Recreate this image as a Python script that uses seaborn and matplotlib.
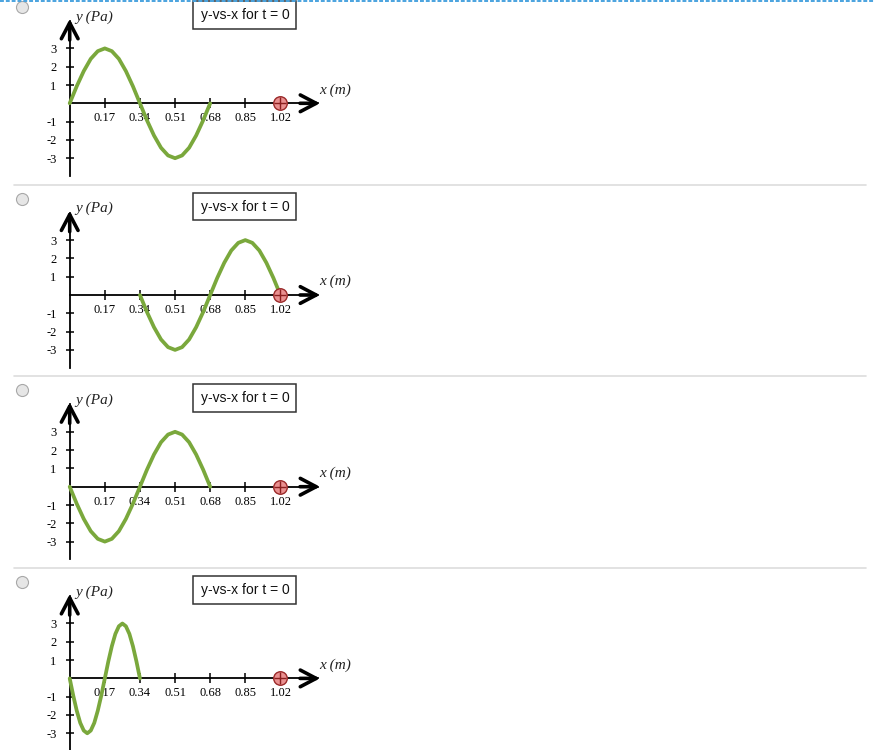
import numpy as np
import pandas as pd
import seaborn as sns
import matplotlib.pyplot as plt
from matplotlib.patches import Rectangle
from matplotlib.lines import Line2D

sns.set_theme(style="white")
plt.rcParams['font.family'] = ['Liberation Serif', 'DejaVu Serif']

# ---- data ----
x_ticks = [0.17, 0.34, 0.51, 0.68, 0.85, 1.02]
x_tick_labels = ["0.17", "0.34", "0.51", "0.68", "0.85", "1.02"]
y_ticks = [-3, -2, -1, 1, 2, 3]
y_tick_labels = ["-3", "-2", "-1", "1", "2", "3"]
title = "y-vs-x for t = 0"
x_label = "x (m)"
y_label = "y (Pa)"
source_x = 1.02
source_y = 0

x_full = [0, 0.034, 0.068, 0.102, 0.136, 0.17, 0.204, 0.238, 0.272, 0.306, 0.34,
          0.374, 0.408, 0.442, 0.476, 0.51, 0.544, 0.578, 0.612, 0.646, 0.68]
x_late = [0.34, 0.374, 0.408, 0.442, 0.476, 0.51, 0.544, 0.578, 0.612, 0.646, 0.68,
          0.714, 0.748, 0.782, 0.816, 0.85, 0.884, 0.918, 0.952, 0.986, 1.02]
x_short = [0, 0.017, 0.034, 0.051, 0.068, 0.085, 0.102, 0.119, 0.136, 0.153, 0.17,
           0.187, 0.204, 0.221, 0.238, 0.255, 0.272, 0.289, 0.306, 0.323, 0.34]

y_a = [0, 0.93, 1.76, 2.43, 2.85, 3.0, 2.85, 2.43, 1.76, 0.93, 0,
       -0.93, -1.76, -2.43, -2.85, -3.0, -2.85, -2.43, -1.76, -0.93, 0]
y_b = [0, -0.93, -1.76, -2.43, -2.85, -3.0, -2.85, -2.43, -1.76, -0.93, 0,
       0.93, 1.76, 2.43, 2.85, 3.0, 2.85, 2.43, 1.76, 0.93, 0]
y_c = [0, -0.93, -1.76, -2.43, -2.85, -3.0, -2.85, -2.43, -1.76, -0.93, 0,
       0.93, 1.76, 2.43, 2.85, 3.0, 2.85, 2.43, 1.76, 0.93, 0]
y_d = [0, -0.93, -1.76, -2.43, -2.85, -3.0, -2.85, -2.43, -1.76, -0.93, 0,
       0.93, 1.76, 2.43, 2.85, 3.0, 2.85, 2.43, 1.76, 0.93, 0]

panels = [(x_full, y_a), (x_late, y_b), (x_full, y_c), (x_short, y_d)]
df = pd.concat([pd.DataFrame({"panel": i, "x": xs, "y": ys})
                for i, (xs, ys) in enumerate(panels)], ignore_index=True)

# ---- layout in pixels ----
W, H = 874, 750
X0, SX = 69.7, 206.6      # pixel of x=0, pixels per metre
Y0, SY = 103.3, 18.3      # pixel (in panel) of y=0, pixels per Pa
STEP = 191.7
green = "#7aa83c"

fig = plt.figure(figsize=(W / 100, H / 100), dpi=100)
fig.patch.set_facecolor("white")


def dx(px):
    return (px - X0) / SX


def dy(py):
    return (Y0 - py) / SY


for i in range(4):
    top = STEP * i
    bottom = min(top + STEP, H)
    ax = fig.add_axes([0, 1 - bottom / H, 1, (bottom - top) / H])
    ax.set_xlim(dx(0), dx(W))
    ax.set_ylim(dy(bottom - top), dy(0))
    ax.set_facecolor("none")

    for s in ["top", "right"]:
        ax.spines[s].set_visible(False)
    ax.spines["left"].set_position(("data", 0))
    ax.spines["bottom"].set_position(("data", 0))
    ax.spines["left"].set_bounds(dy(176), dy(21))
    ax.spines["bottom"].set_bounds(0, dx(318))
    for s in ["left", "bottom"]:
        ax.spines[s].set_color("black")
        ax.spines[s].set_linewidth(1.3)

    ax.set_xticks(x_ticks, x_tick_labels)
    ax.set_yticks(y_ticks, y_tick_labels)
    ax.tick_params(direction="inout", width=1.1, colors="black", labelsize=9)
    ax.tick_params(axis="x", bottom=True, length=7, pad=3)
    ax.tick_params(axis="y", left=True, length=6, pad=6.5)
    ax.grid(False)

    # arrow heads
    ax.annotate("", xy=(dx(320), 0), xytext=(dx(300), 0),
                arrowprops=dict(arrowstyle="->,head_length=0.95,head_width=0.5",
                                lw=2.6, color="black", shrinkA=0, shrinkB=0))
    ax.annotate("", xy=(0, dy(19)), xytext=(0, dy(40)),
                arrowprops=dict(arrowstyle="->,head_length=0.95,head_width=0.5",
                                lw=2.6, color="black", shrinkA=0, shrinkB=0))

    ax.text(dx(75), dy(17), y_label, fontsize=11, style="italic",
            ha="left", va="center", color="#222222")
    ax.text(dx(319), dy(90), x_label, fontsize=11, style="italic",
            ha="left", va="center", color="#222222")

    # wave
    sns.lineplot(data=df[df["panel"] == i], x="x", y="y", ax=ax, color=green,
                 linewidth=2.7, sort=False, zorder=5)
    ax.set_xlabel("")
    ax.set_ylabel("")

    # source marker
    sns.scatterplot(x=[source_x], y=[source_y], ax=ax, s=95, color="#e99090",
                    edgecolor="#9b2a2a", linewidth=1, zorder=6)
    ax.scatter([source_x], [source_y], marker="+", s=65, color="#8b1f1f",
               linewidths=1, zorder=7)

    # title box
    ax.add_patch(Rectangle((dx(193), dy(28.5)), dx(296) - dx(193),
                           dy(0.8) - dy(28.5), facecolor="white",
                           edgecolor="#333333", linewidth=1.1, zorder=4))
    ax.text(dx(245), dy(15), title, family=["Liberation Sans", "DejaVu Sans"],
            fontsize=10, ha="center", va="center", color="#111111", zorder=5)

    # radio button
    ax.scatter([dx(22)], [dy(7)], s=75, facecolor="#e6e6e6",
               edgecolor="#a8a8a8", linewidths=0.8, zorder=4, clip_on=False)

    # separator
    if i < 3:
        ax.axhline(dy(184.5), xmin=14 / W, xmax=866 / W, color="#dddddd",
                   linewidth=1.2)

fig.add_artist(Line2D([0, 1], [1 - 0.7 / H, 1 - 0.7 / H], color="#4aa3df",
                      linewidth=1.4, linestyle=(0, (2, 1))))

fig.savefig("out.png", dpi=100, facecolor="white")
